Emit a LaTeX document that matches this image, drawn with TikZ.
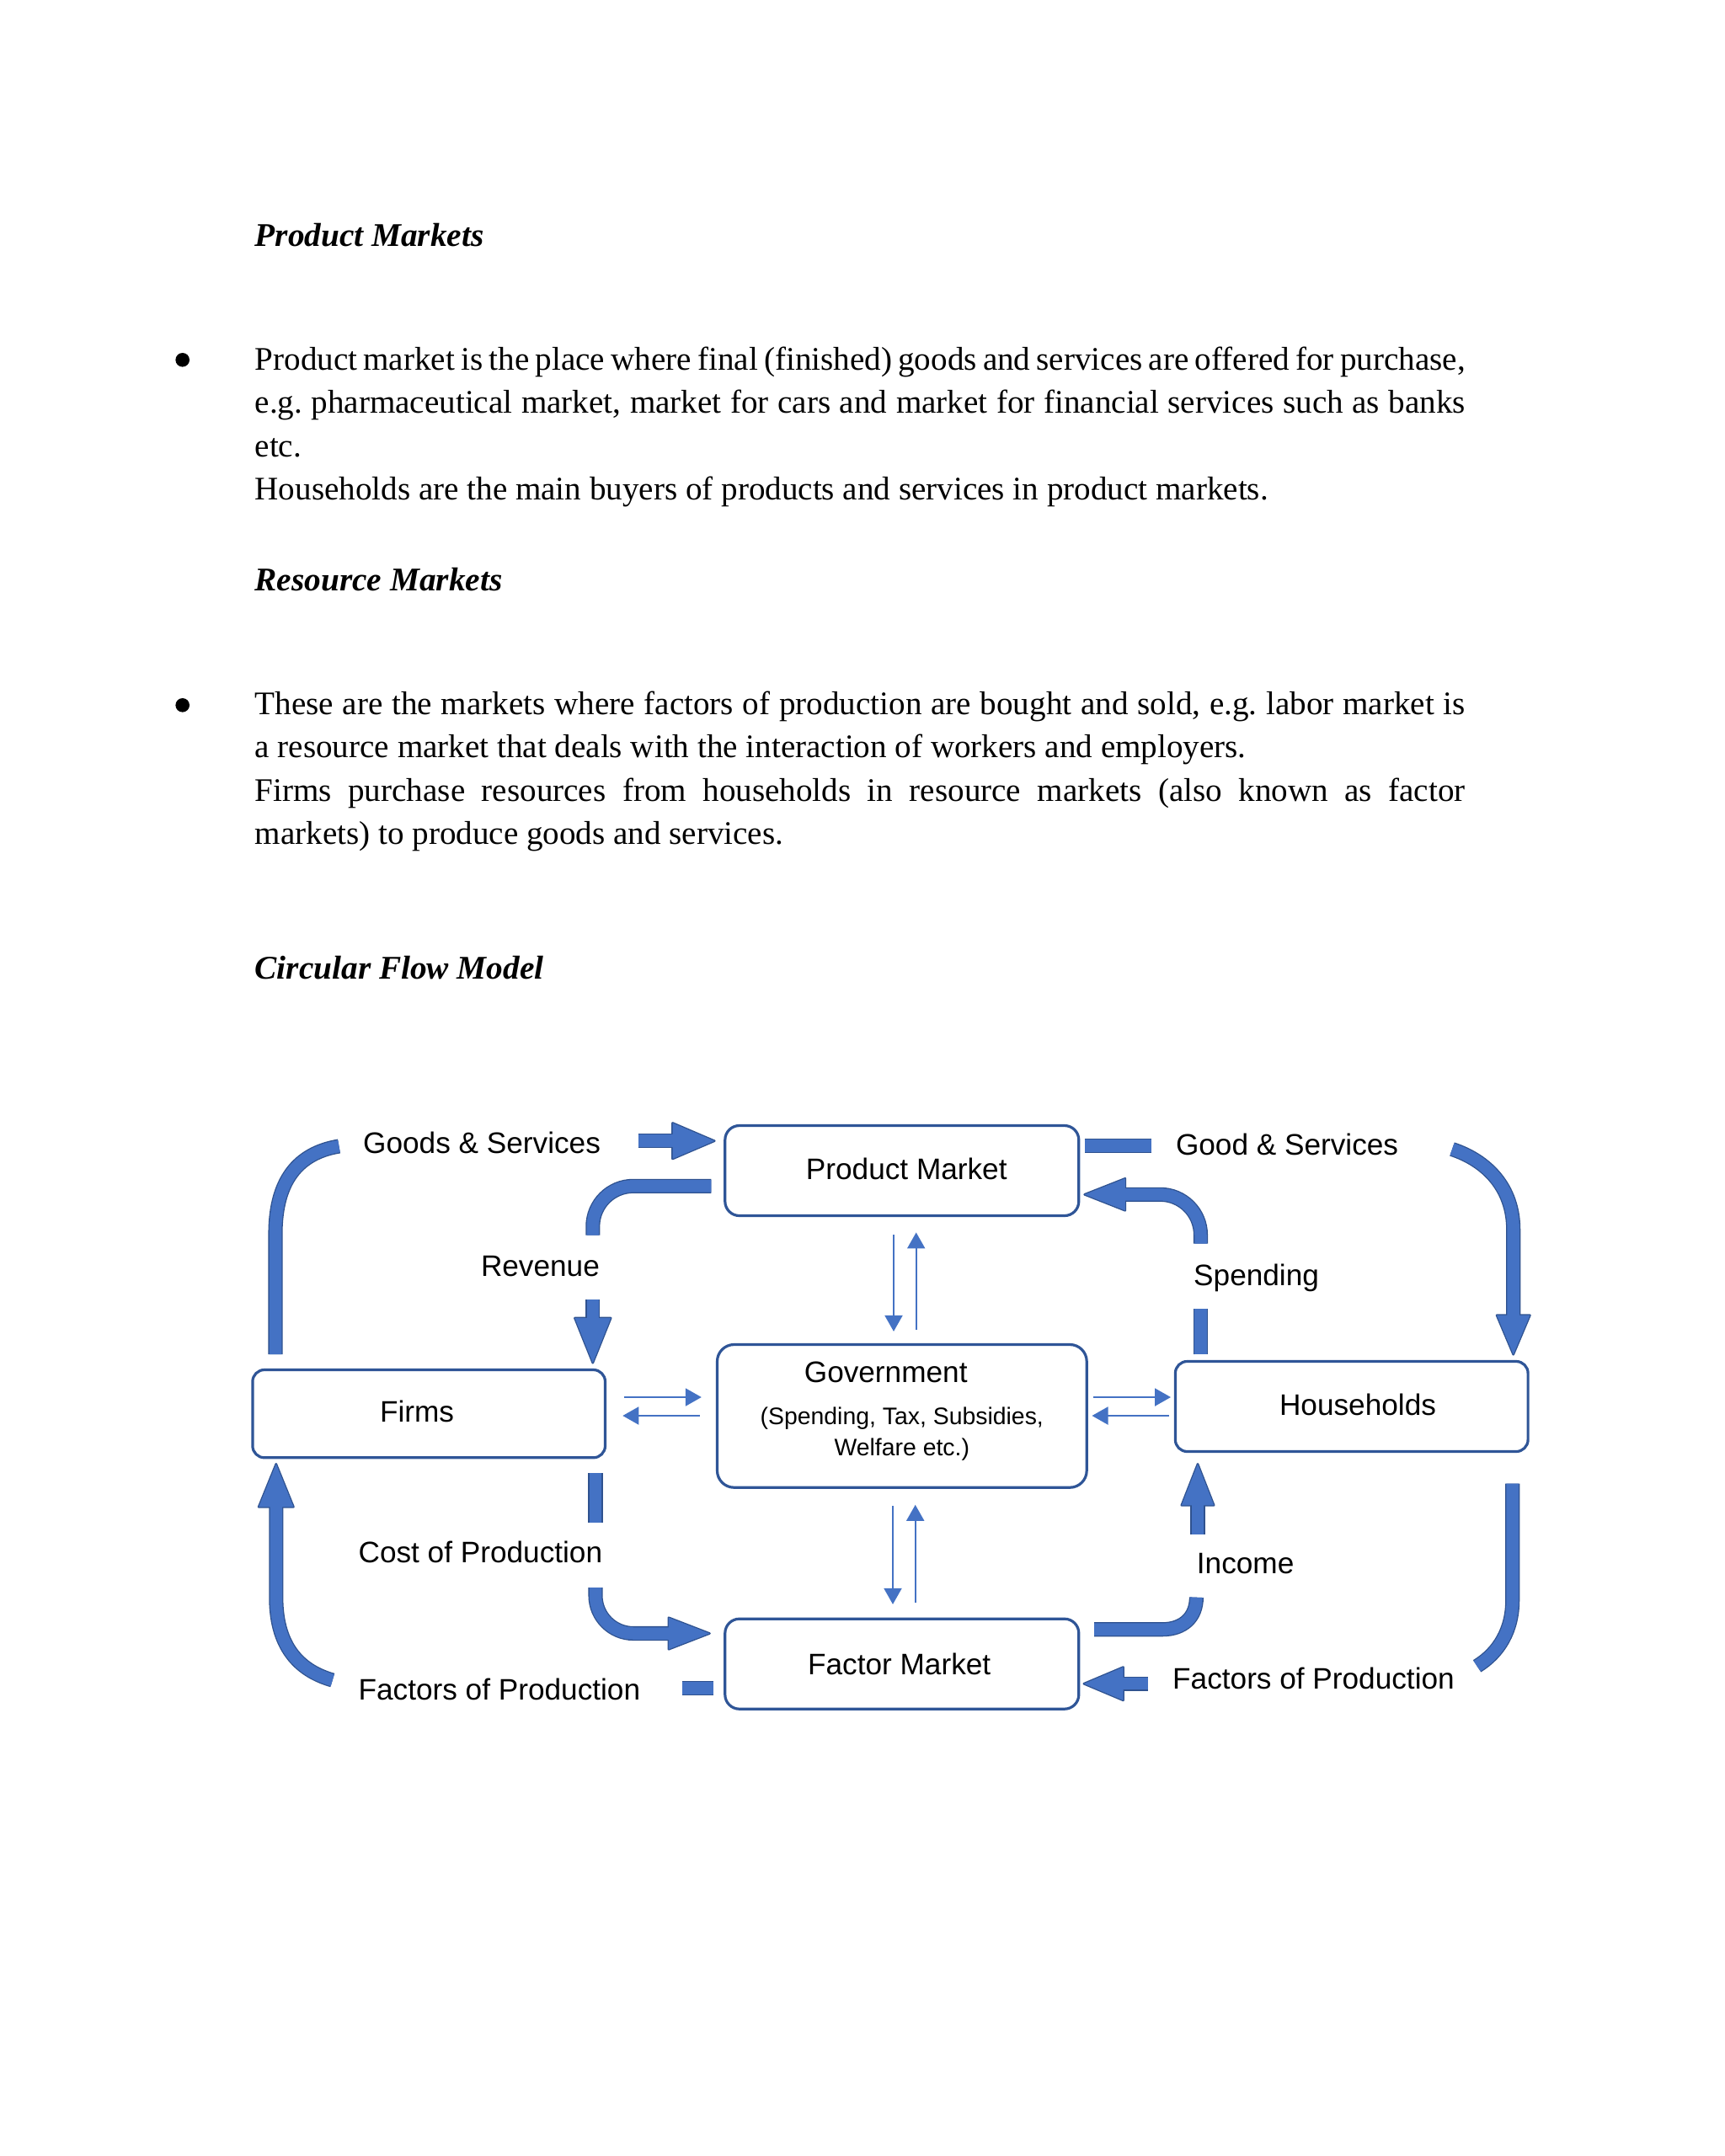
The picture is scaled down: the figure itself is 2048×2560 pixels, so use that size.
\documentclass[tikz,border=0pt]{standalone}
\usepackage{fontspec}
\setmainfont{Liberation Serif}
\newfontfamily\diagfont{Liberation Sans}
\usetikzlibrary{arrows.meta}
\definecolor{afill}{HTML}{4472C4}
\definecolor{aline}{HTML}{2F528F}
\definecolor{bline}{HTML}{2F5597}
\newcommand\jline[1]{\hbox to 1437pt{#1}}
% all block-arrow shapes; #1 = shaft style, #2 = head style
\newcommand\flowlayer[2]{%
  % Firms -> Goods & Services (top-left arc)
  \draw[#1] (a1s) -- (327,1465) .. controls (327,1395) and (360,1368) .. (a1e);
  % Goods & Services -> Product Market
  \draw[#1] (a2s) -- (802,1354.7);
  \path[#2] (a2t) -- ++(-49.8,-21.3) -- ++(0,42.6) -- cycle;
  % Product Market -> Revenue
  \draw[#1,rounded corners=48pt] (a3s) -| (a3e);
  % Revenue -> Firms
  \draw[#1] (a4s) -- (703.8,1567);
  \path[#2] (a4t) -- ++(-21.4,-53.3) -- ++(42.8,0) -- cycle;
  % Factors of Production -> Firms (bottom-left arc)
  \draw[#1] (a5s) .. controls (360,1985) and (327.8,1960) .. (327.8,1896.7) -- (327.8,1787);
  \path[#2] (a5t) -- ++(-20.7,51) -- ++(41.4,0) -- cycle;
  % Firms -> Cost of Production
  \draw[#1] (a6s) -- (a6e);
  % Cost of Production -> Factor Market
  \draw[#1,rounded corners=45pt] (a7s) |- (796,1939.5);
  \path[#2] (a7t) -- ++(-48.6,-18.8) -- ++(0,37.6) -- cycle;
  % Factor Market -> Factors of Production (left stub)
  \draw[#1] (a8s) -- (a8e);
  % Product Market -> Good & Services (right stub)
  \draw[#1] (a9s) -- (a9e);
  % Good & Services -> Households (top-right arc)
  \draw[#1] (a10s) .. controls (1765,1378) and (1796.7,1410) .. (1796.7,1460) -- (1796.7,1563);
  \path[#2] (a10t) -- ++(-19.7,-46.6) -- ++(39.4,0) -- cycle;
  % Households -> Spending -> Product Market
  \draw[#1] (a11s) -- (a11e);
  \draw[#1,rounded corners=48pt] (a11bs) |- (1334,1418.3);
  \path[#2] (a11t) -- ++(48.2,-19) -- ++(0,38) -- cycle;
  % Factor Market -> Income -> Households
  \draw[#1] (a12s) -- (1422,1785);
  \path[#2] (a12t) -- ++(-19.2,49) -- ++(38.4,0) -- cycle;
  \draw[#1] (a12bs) .. controls (1420.4,1920) and (1405,1934.7) .. (1380,1934.7) -- (a12be);
  % Households -> Factors of Production (bottom-right arc)
  \draw[#1] (a13s) -- (1795.7,1900) .. controls (1795.7,1935) and (1780,1962) .. (a13e);
  % Factors of Production -> Factor Market
  \draw[#1] (a14s) -- (1331,1999.2);
  \path[#2] (a14t) -- ++(46.7,-19.7) -- ++(0,39.4) -- cycle;
}
\begin{document}
\begin{tikzpicture}[x=1pt,y=-1pt,
  bodytext/.style={anchor=base west, inner sep=0pt, font=\fontsize{39.1pt}{51.5pt}\selectfont\frenchspacing},
  headtext/.style={anchor=base west, inner sep=0pt, font=\fontsize{39.3pt}{51.5pt}\selectfont\bfseries\itshape},
  lab/.style={anchor=base west, inner sep=0pt, font=\diagfont\fontsize{35.2pt}{42pt}\selectfont},
  clab/.style={lab, anchor=base},
  sublab/.style={anchor=base, inner sep=0pt, font=\diagfont\fontsize{28.4pt}{34pt}\selectfont},
  mbox/.style={draw=bline, line width=3.2pt, rounded corners=#1, fill=white, inner sep=0pt},
  fo/.style={draw=aline, line width=17.1pt},
  fi/.style={draw=afill, line width=14.5pt},
  ho/.style={fill=aline, draw=aline, line width=2.6pt, line join=round},
  hi/.style={fill=afill},
  thinarrow/.style={draw=afill, line width=2pt, -{Triangle[length=19pt,width=21pt]}},
  dot/.style={fill=black}]
\useasboundingbox (0,0) rectangle (2048,2560);
\fill[white] (0,0) rectangle (2048,2560);

% ---------- text ----------
\node[headtext] (h1) at (302.5,292.7) {Product Markets};
\fill[dot] (216.7,427.3) circle (8.3);
\node[bodytext] (p1a) at (302.5,439.3) {\jline{Product market is the place where final (finished) goods and services are offered for purchase,}};
\node[bodytext] (p1b) at (302.5,490.6) {\jline{e.g. pharmaceutical market, market for cars and market for financial services such as banks}};
\node[bodytext] (p1c) at (302.5,542) {etc.};
\node[bodytext] (p1d) at (302.5,593.5) {Households are the main buyers of products and services in product markets.};

\node[headtext] (h2) at (302.5,701.7) {Resource Markets};
\fill[dot] (216.7,837.3) circle (8.3);
\node[bodytext] (p2a) at (302.5,848.3) {\jline{These are the markets where factors of production are bought and sold, e.g. labor market is}};
\node[bodytext] (p2b) at (302.5,899.6) {a resource market that deals with the interaction of workers and employers.};
\node[bodytext] (p2c) at (302.5,951) {\jline{Firms purchase resources from households in resource markets (also known as factor}};
\node[bodytext] (p2d) at (302.5,1002.5) {markets) to produce goods and services.};

\node[headtext] (h3) at (302.5,1162.7) {Circular Flow Model};

% ---------- boxes ----------
\node[mbox=17pt, minimum width=420pt, minimum height=107pt] (pm) at (1070.8,1390) {};
\node[mbox=20pt, minimum width=438.7pt, minimum height=169.7pt] (gov) at (1070.85,1681.35) {};
\node[mbox=14pt, minimum width=418.6pt, minimum height=104.3pt] (firms) at (509.2,1678.65) {};
\node[mbox=14pt, minimum width=418.7pt, minimum height=107pt] (hh) at (1604.75,1670) {};
\node[mbox=17pt, minimum width=420pt, minimum height=107pt] (fm) at (1070.8,1975.7) {};

\node[clab] (pmt) at (1076.3,1400.7) {Product Market};
\node[clab] (govt) at (1051.7,1641.7) {Government};
\node[sublab] (govs1) at (1070.8,1691.7) {(Spending, Tax, Subsidies,};
\node[sublab] (govs2) at (1070.8,1728.3) {Welfare etc.)};
\node[clab] (firmst) at (495,1688.3) {Firms};
\node[clab] (hht) at (1612,1680) {Households};
\node[clab] (fmt) at (1067.7,1988.3) {Factor Market};

% ---------- flow labels ----------
\node[lab] (gs1) at (431,1369.3) {Goods \& Services};
\node[lab] (gs2) at (1395.8,1371.7) {Good \& Services};
\node[lab] (rev) at (570.8,1515) {Revenue};
\node[lab] (spend) at (1417,1526) {Spending};
\node[lab] (cost) at (425.4,1855.7) {Cost of Production};
\node[lab] (inc) at (1420.7,1868.3) {Income};
\node[lab] (fop1) at (425.4,2018.3) {Factors of Production};
\node[lab] (fop2) at (1392,2005) {Factors of Production};

% ---------- block arrow coordinates ----------
\coordinate (a1s) at (327,1608);
\coordinate (a1e) at (402.5,1361);
\coordinate (a2s) at (757.6,1354.7);
\coordinate (a2t) at (848.3,1354.7);
\coordinate (a3s) at (844.4,1408.3);
\coordinate (a3e) at (703.8,1466.7);
\coordinate (a4s) at (703.8,1543.3);
\coordinate (a4t) at (703.8,1618.3);
\coordinate (a5s) at (394.8,1995);
\coordinate (a5t) at (327.8,1738.3);
\coordinate (a6s) at (707,1749.3);
\coordinate (a6e) at (707,1808.3);
\coordinate (a7s) at (707,1885);
\coordinate (a7t) at (842.5,1939.5);
\coordinate (a8s) at (810,2004.4);
\coordinate (a8e) at (847.3,2004.4);
\coordinate (a9s) at (1287.6,1360.5);
\coordinate (a9e) at (1367.1,1360.5);
\coordinate (a10s) at (1724,1364.5);
\coordinate (a10t) at (1796.7,1608.3);
\coordinate (a11s) at (1425.5,1608.3);
\coordinate (a11e) at (1425.5,1554);
\coordinate (a11bs) at (1425.5,1476.7);
\coordinate (a11t) at (1287.6,1418.3);
\coordinate (a12s) at (1422,1821.7);
\coordinate (a12t) at (1422,1738.3);
\coordinate (a12bs) at (1420.4,1896.7);
\coordinate (a12be) at (1299,1934.7);
\coordinate (a13s) at (1795.7,1761.7);
\coordinate (a13e) at (1753.6,1978.3);
\coordinate (a14s) at (1362.6,1999.2);
\coordinate (a14t) at (1286.8,1999.2);

% outline layer, then fill layer
\flowlayer{fo}{ho}
\flowlayer{fi}{hi}

% ---------- thin arrows with government ----------
\draw[thinarrow, shorten <=21.1pt, shorten >=17.1pt] (firms.east |- 0,1659) -- (gov.west |- 0,1659);
\draw[thinarrow, shorten <=19pt, shorten >=19.2pt] (gov.west |- 0,1681) -- (firms.east |- 0,1681);
\draw[thinarrow, shorten <=6.6pt, shorten >=3.8pt] (gov.east |- 0,1659) -- (hh.west |- 0,1659);
\draw[thinarrow, shorten <=5.7pt, shorten >=4.7pt] (hh.west |- 0,1681) -- (gov.east |- 0,1681);
\draw[thinarrow, shorten <=20.7pt, shorten >=14pt] (pm.south -| 1061,0) -- (gov.north -| 1061,0);
\draw[thinarrow, shorten <=15.7pt, shorten >=18.3pt] (gov.north -| 1087.7,0) -- (pm.south -| 1087.7,0);
\draw[thinarrow, shorten <=20.6pt, shorten >=15.7pt] (gov.south -| 1060,0) -- (fm.north -| 1060,0);
\draw[thinarrow, shorten <=18pt, shorten >=19pt] (fm.north -| 1086.7,0) -- (gov.south -| 1086.7,0);
\end{tikzpicture}
\end{document}
